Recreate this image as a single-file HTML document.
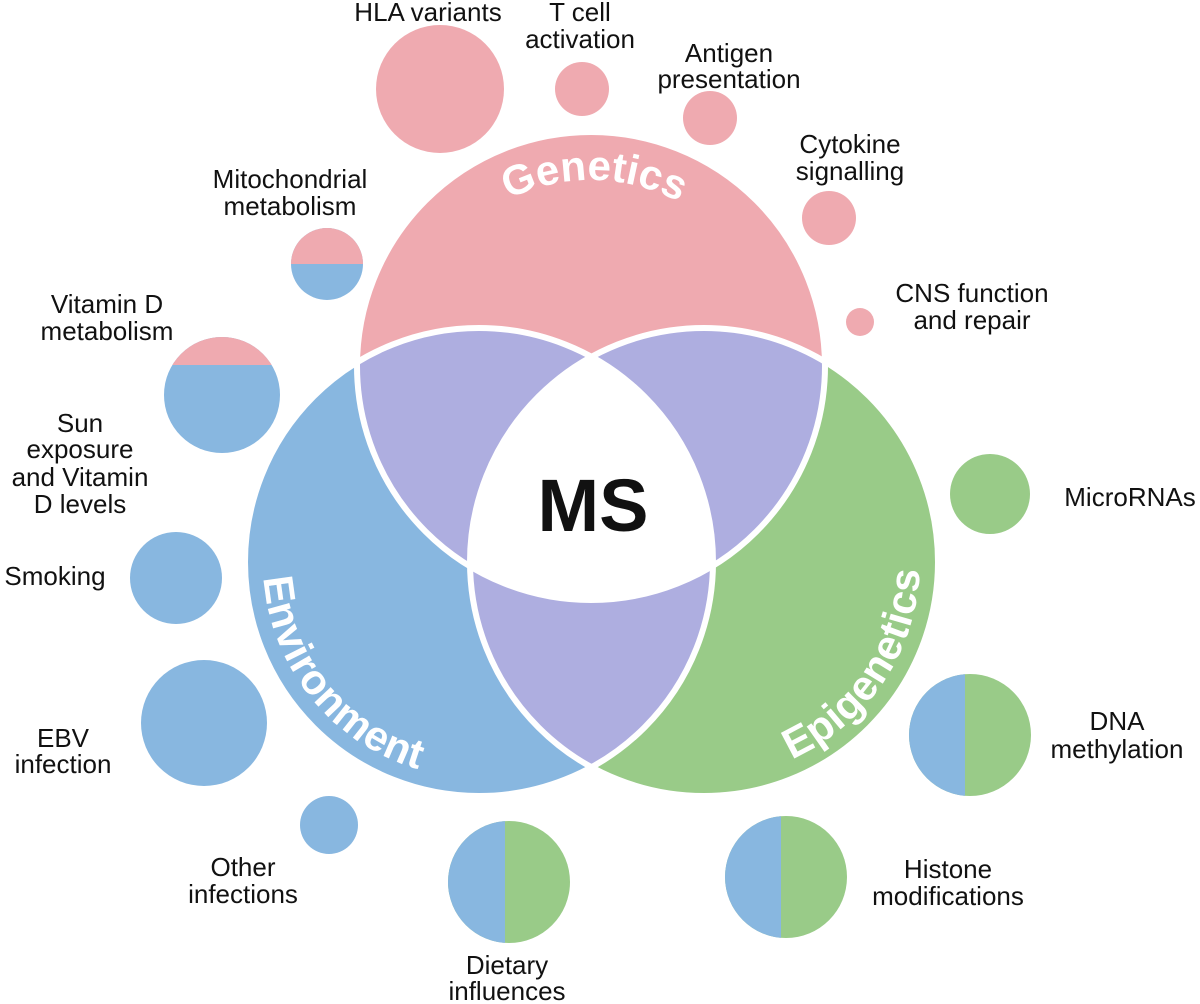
<!DOCTYPE html>
<html><head><meta charset="utf-8"><style>
html,body{margin:0;padding:0;background:#fff;}
svg{display:block;}
.l{font-family:"Liberation Sans",Arial,sans-serif;font-size:26px;fill:#111;text-anchor:middle;}
.w{font-family:"Liberation Sans",Arial,sans-serif;font-weight:bold;font-size:42px;fill:#fff;}
</style></head><body>
<svg width="1200" height="1004" viewBox="0 0 1200 1004" xmlns="http://www.w3.org/2000/svg">
<defs>
<clipPath id="cg"><circle cx="591" cy="366" r="234"/></clipPath>
<clipPath id="ce"><circle cx="479" cy="562" r="234"/></clipPath>
<clipPath id="cp"><circle cx="704" cy="562" r="234"/></clipPath>
<path id="pg" d="M450.6,244 A186 186 0 0 1 735.5,248.9"/>
<path id="pe" d="M267,520.8 A216 216 0 0 0 475.2,778"/>
<path id="pp" d="M726.6,776.8 A216 216 0 0 0 911.6,502.5"/>
<clipPath id="h1"><rect x="0" y="0" width="1200" height="264"/></clipPath>
<clipPath id="h2"><rect x="0" y="0" width="1200" height="365"/></clipPath>
<clipPath id="v1"><rect x="0" y="0" width="505" height="1004"/></clipPath>
<clipPath id="v2"><rect x="0" y="0" width="781" height="1004"/></clipPath>
<clipPath id="v3"><rect x="0" y="0" width="965" height="1004"/></clipPath>
</defs>

<circle cx="591" cy="366" r="234" fill="#efaab0"/>
<circle cx="479" cy="562" r="234" fill="#88b7e0"/>
<circle cx="704" cy="562" r="234" fill="#99cb88"/>
<g clip-path="url(#cg)">
  <circle cx="479" cy="562" r="234" fill="#aeaee0"/>
  <circle cx="704" cy="562" r="234" fill="#aeaee0"/>
</g>
<g clip-path="url(#ce)">
  <circle cx="704" cy="562" r="234" fill="#aeaee0"/>
</g>
<g clip-path="url(#cg)"><g clip-path="url(#ce)">
  <circle cx="704" cy="562" r="234" fill="#fff"/>
</g></g>
<g fill="none" stroke="#fff" stroke-width="6">
<circle cx="591" cy="366" r="234"/>
<circle cx="479" cy="562" r="234"/>
<circle cx="704" cy="562" r="234"/>
</g>

<text class="w"><textPath href="#pg" startOffset="50%" text-anchor="middle">Genetics</textPath></text>
<text class="w" letter-spacing="0.5"><textPath href="#pe" startOffset="50%" text-anchor="middle">Environment</textPath></text>
<text class="w" letter-spacing="0.5"><textPath href="#pp" startOffset="50%" text-anchor="middle">Epigenetics</textPath></text>

<text x="593" y="531" font-family="Liberation Sans,Arial,sans-serif" font-weight="bold" font-size="74" text-anchor="middle" fill="#111">MS</text>

<circle cx="440" cy="89" r="64" fill="#efaab0"/>
<circle cx="582" cy="89" r="27" fill="#efaab0"/>
<circle cx="710" cy="118" r="27" fill="#efaab0"/>
<circle cx="829" cy="218" r="27" fill="#efaab0"/>
<circle cx="860" cy="322" r="14" fill="#efaab0"/>

<circle cx="327" cy="264" r="36" fill="#88b7e0"/>
<circle cx="327" cy="264" r="36" fill="#efaab0" clip-path="url(#h1)"/>
<circle cx="222" cy="395" r="58" fill="#88b7e0"/>
<circle cx="222" cy="395" r="58" fill="#efaab0" clip-path="url(#h2)"/>
<circle cx="509" cy="882" r="61" fill="#99cb88"/>
<circle cx="509" cy="882" r="61" fill="#88b7e0" clip-path="url(#v1)"/>
<circle cx="786" cy="877" r="61" fill="#99cb88"/>
<circle cx="786" cy="877" r="61" fill="#88b7e0" clip-path="url(#v2)"/>
<circle cx="970" cy="735" r="61" fill="#99cb88"/>
<circle cx="970" cy="735" r="61" fill="#88b7e0" clip-path="url(#v3)"/>

<circle cx="176" cy="578" r="46" fill="#88b7e0"/>
<circle cx="204" cy="723" r="63" fill="#88b7e0"/>
<circle cx="329" cy="825" r="29" fill="#88b7e0"/>
<circle cx="990" cy="494" r="40" fill="#99cb88"/>

<text class="l" x="428" y="21">HLA variants</text>
<text class="l" x="580" y="21">T cell</text>
<text class="l" x="580" y="48">activation</text>
<text class="l" x="729" y="62">Antigen</text>
<text class="l" x="729" y="88">presentation</text>
<text class="l" x="850" y="153">Cytokine</text>
<text class="l" x="850" y="180">signalling</text>
<text class="l" x="972" y="302">CNS function</text>
<text class="l" x="972" y="329">and repair</text>
<text class="l" x="290" y="188">Mitochondrial</text>
<text class="l" x="290" y="215">metabolism</text>
<text class="l" x="107" y="313">Vitamin D</text>
<text class="l" x="107" y="340">metabolism</text>
<text class="l" x="80" y="432">Sun</text>
<text class="l" x="80" y="458">exposure</text>
<text class="l" x="80" y="486">and Vitamin</text>
<text class="l" x="80" y="513">D levels</text>
<text class="l" x="55" y="585">Smoking</text>
<text class="l" x="63" y="747">EBV</text>
<text class="l" x="63" y="773">infection</text>
<text class="l" x="243" y="876">Other</text>
<text class="l" x="243" y="903">infections</text>
<text class="l" x="507" y="974">Dietary</text>
<text class="l" x="507" y="1000">influences</text>
<text class="l" x="948" y="878">Histone</text>
<text class="l" x="948" y="905">modifications</text>
<text class="l" x="1117" y="730">DNA</text>
<text class="l" x="1117" y="758">methylation</text>
<text class="l" x="1130" y="506">MicroRNAs</text>
</svg>
</body></html>
